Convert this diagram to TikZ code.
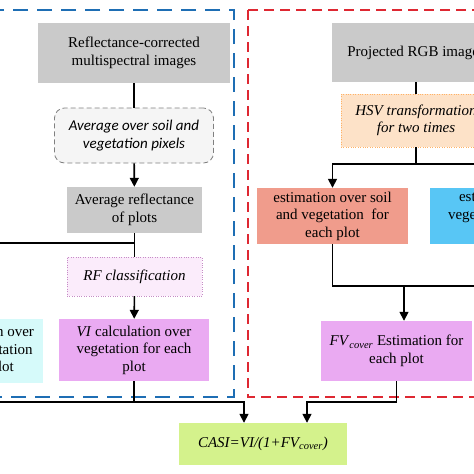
\documentclass[tikz,border=0pt]{standalone}
\usepackage{fontspec}
\setmainfont{Liberation Serif}
\newfontfamily\calfont{Carlito}
\usetikzlibrary{arrows.meta}
\definecolor{dashblue}{RGB}{30,110,180}
\definecolor{dashred}{RGB}{222,40,50}
\definecolor{grayfill}{RGB}{202,202,202}
\definecolor{violetfill}{RGB}{234,170,242}
\definecolor{salmonfill}{RGB}{240,156,140}
\definecolor{skyfill}{RGB}{88,198,245}
\definecolor{cyanfill}{RGB}{214,250,250}
\definecolor{peachfill}{RGB}{253,226,200}
\definecolor{pinkfill}{RGB}{251,236,251}
\definecolor{greenfill}{RGB}{212,242,140}
\begin{document}
\begin{tikzpicture}[x=1pt,y=-1pt,
    every node/.style={font=\fontsize{15}{17.5}\selectfont,align=center,inner sep=2pt},
    gbox/.style={fill=grayfill},
    conn/.style={line width=1.6pt},
    arr/.style={line width=1.6pt,-{Triangle[width=9pt,length=9pt]}}]
	\useasboundingbox (0,0) rectangle (474,474);
	\clip (0,0) rectangle (474,474);
	% dashed frames
	\draw[dashblue,line width=2.4pt,dash pattern=on 15pt off 9pt] (-10,10) rectangle (234,397);
	\draw[dashred,line width=1.6pt,dash pattern=on 10pt off 6pt] (248,10) rectangle (490,397);
	% left column
	\node[gbox,minimum width=192pt,minimum height=60pt] (refl) at (134,53) {Reflectance-corrected\\multispectral images};
	\node[draw=gray,line width=0.8pt,dash pattern=on 5pt off 3pt,rounded corners=10pt,fill=gray!8,minimum width=159pt,minimum height=55pt,font=\calfont\itshape\fontsize{15}{17.5}\selectfont] (avgpix) at (134,135.5) {Average over soil and\\vegetation pixels};
	\node[gbox,minimum width=135pt,minimum height=46pt] (avgrefl) at (134.5,210) {Average reflectance\\of plots};
	\node[draw=violet!45,dotted,fill=pinkfill,minimum width=135pt,minimum height=39pt,font=\itshape\fontsize{15}{17.5}\selectfont] (rf) at (134.5,276.5) {RF classification};
	\node[fill=violetfill,minimum width=150pt,minimum height=62pt] (vi) at (134,350) {\textit{VI} calculation over\\vegetation for each\\plot};
	\node[fill=cyanfill,minimum width=134pt,minimum height=64pt] (fvl) at (-24,351) {FV estimation over\\soil and vegetation\\for each plot};
	% right column
	\node[gbox,minimum width=168pt,minimum height=59pt] (rgb) at (416,52.5) {Projected RGB images};
	\node[draw=orange!60,dotted,fill=peachfill,minimum width=150pt,minimum height=53pt,font=\itshape\fontsize{15}{17.5}\selectfont] (hsv) at (416,120.5) {HSV transformation\\for two times};
	\node[fill=salmonfill,minimum width=151pt,minimum height=56pt] (est1) at (332.5,216) {estimation over soil\\and vegetation~~for\\each plot};
	\node[fill=skyfill,minimum width=151pt,minimum height=56pt] (est2) at (505.5,216) {estimation over\\vegetation for each\\plot};
	\node[fill=violetfill,minimum width=151pt,minimum height=60pt] (fv) at (396.5,351) {\textit{FV}\textsubscript{\itshape cover} Estimation for\\each plot};
	% result
	\node[fill=greenfill,minimum width=168pt,minimum height=42pt,font=\itshape\fontsize{15}{17.5}\selectfont] (casi) at (263,444) {CASI=VI/(1+FV\textsubscript{cover})};
	% connectors left
	\coordinate (lfree) at (0,243);
	\coordinate (lsplit) at (134.5,243);
	\draw[conn] (refl) -- (avgpix);
	\draw[arr] (avgpix) -- (avgrefl);
	\draw[conn] (avgrefl) -- (rf);
	\draw[conn] (lfree) -- (lsplit);
	\draw[arr] (rf) -- (vi);
	% connectors right
	\coordinate (hsplit) at (416,164);
	\coordinate (hfree) at (480,164);
	\coordinate (efree) at (480,286);
	\coordinate (fvin) at (404,286);
	\draw[conn] (rgb) -- (hsv);
	\draw[conn] (hsv.south) -- (hsplit);
	\draw[arr] (hfree) -- (est1.north |- hfree) -- (est1.north);
	\draw[conn] (est1.south) -- (est1.south |- efree) -- (efree);
	\draw[arr] (fvin) -- (fvin |- fv.north);
	% connectors to result
	\coordinate (bl) at (0,402);
	\coordinate (bm) at (244,402);
	\coordinate (br) at (396.5,402);
	\coordinate (bfv) at (307,402);
	\draw[conn] (vi.south) -- (vi.south |- bl);
	\draw[arr] (bl) -- (bm) -- (bm |- casi.north);
	\draw[arr] (fv.south) -- (br) -- (bfv) -- (bfv |- casi.north);
\end{tikzpicture}
\end{document}
